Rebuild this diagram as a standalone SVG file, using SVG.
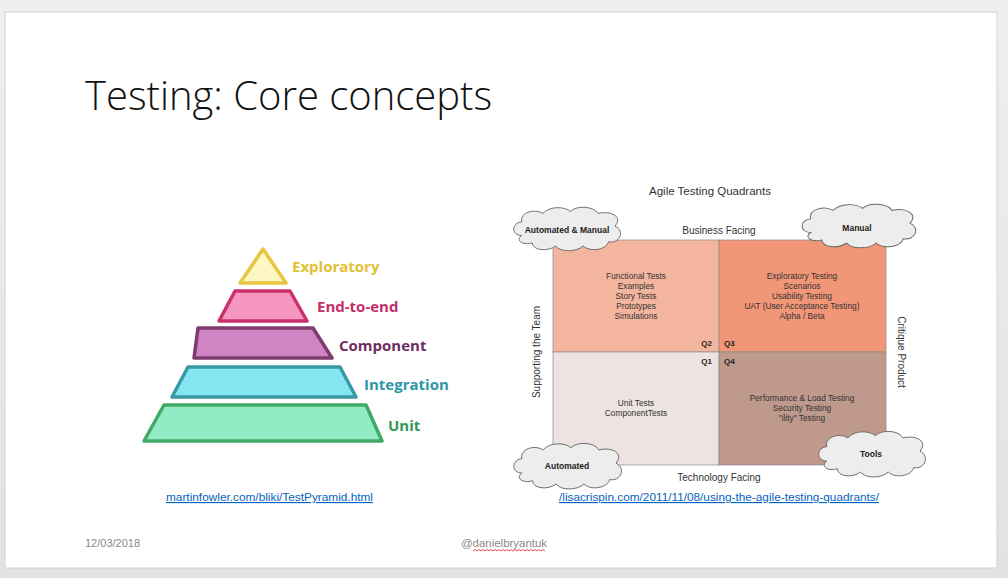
<svg xmlns="http://www.w3.org/2000/svg" width="1008" height="578" viewBox="0 0 1008 578">
<defs>
<linearGradient id="bg" x1="0" y1="0" x2="0" y2="1">
<stop offset="0" stop-color="#efefef"/><stop offset="1" stop-color="#e2e2e2"/>
</linearGradient>
<path id="cloud" d="M 12,30 C 2,30 2,18 12,17 C 10,8 24,4 32,9 C 38,2 52,2 58,7 C 64,1 80,2 84,9 C 96,6 108,12 100,21 C 110,26 104,38 94,36 C 92,44 76,46 70,40 C 64,46 48,46 44,40 C 36,46 22,44 22,37 C 12,40 6,34 12,30 Z"/>
</defs>
<style>
.pyr{stroke-width:3.5;stroke-linejoin:round}
.plab{font-family:"Open Sans","DejaVu Sans",sans-serif;font-weight:bold;font-size:15px}
.q{font-family:"Liberation Sans",Arial,sans-serif;fill:#333;text-anchor:middle}
.qt{font-size:8.3px}
.ql{font-size:8px;font-weight:bold;fill:#222}
.cl{fill:#eeeded;stroke:#6a6a6a;stroke-width:0.9}
.clt{font-family:"Liberation Sans",Arial,sans-serif;font-size:8.5px;font-weight:bold;fill:#222;text-anchor:middle}
.link{font-family:"Liberation Sans",Arial,sans-serif;font-size:11.5px;fill:#0563c1;text-decoration:underline}
.foot{font-family:"Liberation Sans",Arial,sans-serif;font-size:11px;fill:#8a8a8a}
</style>
<rect x="0" y="0" width="1008" height="578" fill="url(#bg)"/>
<rect x="5" y="12" width="992" height="556" fill="#ffffff" stroke="#d2d2d2" stroke-width="1"/>
<text x="85" y="110" font-family="'Open Sans','DejaVu Sans',sans-serif" font-weight="300" font-size="40" fill="#111" textLength="407" lengthAdjust="spacingAndGlyphs">Testing: Core concepts</text>

<g id="pyramid">
<g id="exploratory">
<path class="pyr" d="M263,249 L286,283 L240,283 Z" fill="#fdf7c3" stroke="#e6c840"/>
<text class="plab" x="292" y="272" fill="#e2c232">Exploratory</text>
</g>
<g id="end-to-end">
<path class="pyr" d="M235,291 L290,291 L307,321 L219,321 Z" fill="#f596c0" stroke="#c8336c"/>
<text class="plab" x="317" y="312" fill="#c42e67">End-to-end</text>
</g>
<g id="component">
<path class="pyr" d="M198,328 L313,328 L332,358 L194,358 Z" fill="#cf84c3" stroke="#7e3d6e"/>
<text class="plab" x="339" y="351" fill="#6e2d62">Component</text>
</g>
<g id="integration">
<path class="pyr" d="M188,367 L340,367 L356,397 L172,397 Z" fill="#83e6f0" stroke="#3899a7"/>
<text class="plab" x="364" y="390" fill="#2d95a3">Integration</text>
</g>
<g id="unit">
<path class="pyr" d="M164,405 L366,405 L382,441 L144,441 Z" fill="#93ebc6" stroke="#3fa966"/>
<text class="plab" x="388" y="431" fill="#35955b">Unit</text>
</g>
</g>

<g id="quadrants">
<text class="q" x="710" y="195" font-size="11.5">Agile Testing Quadrants</text>
<text class="q" x="719" y="234" font-size="10">Business Facing</text>
<text class="q" x="719" y="481" font-size="10">Technology Facing</text>
<text class="q" font-size="10" transform="translate(540,352) rotate(-90)">Supporting the Team</text>
<text class="q" font-size="10" transform="translate(898,352) rotate(90)">Critique Product</text>
<g id="q2">
<rect x="553" y="240" width="166" height="112" fill="#f4b59e" stroke="#8a8a8a" stroke-width="0.7"/>
<text class="q qt" x="636" y="279">Functional Tests</text>
<text class="q qt" x="636" y="289">Examples</text>
<text class="q qt" x="636" y="299">Story Tests</text>
<text class="q qt" x="636" y="309">Prototypes</text>
<text class="q qt" x="636" y="319">Simulations</text>
<text class="q ql" x="712" y="346" style="text-anchor:end">Q2</text>
</g>
<g id="q3">
<rect x="719" y="240" width="167" height="112" fill="#f29678" stroke="#8a8a8a" stroke-width="0.7"/>
<text class="q qt" x="802" y="279">Exploratory Testing</text>
<text class="q qt" x="802" y="289">Scenarios</text>
<text class="q qt" x="802" y="299">Usability Testing</text>
<text class="q qt" x="802" y="309">UAT (User Acceptance Testing)</text>
<text class="q qt" x="802" y="319">Alpha / Beta</text>
<text class="q ql" x="724" y="346" style="text-anchor:start">Q3</text>
</g>
<g id="q1">
<rect x="553" y="352" width="166" height="113" fill="#ede3e0" stroke="#8a8a8a" stroke-width="0.7"/>
<text class="q qt" x="636" y="406">Unit Tests</text>
<text class="q qt" x="636" y="416">ComponentTests</text>
<text class="q ql" x="712" y="364" style="text-anchor:end">Q1</text>
</g>
<g id="q4">
<rect x="719" y="352" width="167" height="113" fill="#bf998c" stroke="#8a8a8a" stroke-width="0.7"/>
<text class="q qt" x="802" y="401">Performance &amp; Load Testing</text>
<text class="q qt" x="802" y="411">Security Testing</text>
<text class="q qt" x="802" y="421">"ility" Testing</text>
<text class="q ql" x="724" y="364" style="text-anchor:start">Q4</text>
</g>
<g id="cloud-automated-manual">
<use href="#cloud" class="cl" transform="translate(509,204) scale(1.06,1.05)"/>
<text class="clt" x="567" y="233">Automated &amp; Manual</text>
</g>
<g id="cloud-manual">
<use href="#cloud" class="cl" transform="translate(797,201) scale(1.13,1.05)"/>
<text class="clt" x="857" y="231">Manual</text>
</g>
<g id="cloud-automated">
<use href="#cloud" class="cl" transform="translate(509,440) scale(1.07,1.1)"/>
<text class="clt" x="567" y="469">Automated</text>
</g>
<g id="cloud-tools">
<use href="#cloud" class="cl" transform="translate(814,428) scale(1.06,1.1)"/>
<text class="clt" x="871" y="457">Tools</text>
</g>
</g>

<text class="link" x="166" y="501" textLength="207" lengthAdjust="spacingAndGlyphs">martinfowler.com/bliki/TestPyramid.html</text>
<text class="link" x="559" y="501" textLength="320" lengthAdjust="spacingAndGlyphs">/lisacrispin.com/2011/11/08/using-the-agile-testing-quadrants/</text>
<text class="foot" x="85" y="547">12/03/2018</text>
<text class="foot" x="461" y="547" textLength="86" lengthAdjust="spacingAndGlyphs">@danielbryantuk</text>
<path d="M473,551 l2,-1.5 l2,1.5 l2,-1.5 l2,1.5 l2,-1.5 l2,1.5 l2,-1.5 l2,1.5 l2,-1.5 l2,1.5 l2,-1.5 l2,1.5 l2,-1.5 l2,1.5 l2,-1.5 l2,1.5 l2,-1.5 l2,1.5 l2,-1.5 l2,1.5 l2,-1.5 l2,1.5 l2,-1.5 l2,1.5 l2,-1.5 l2,1.5 l2,-1.5 l2,1.5 l2,-1.5 l2,1.5 l2,-1.5 l2,1.5 l2,-1.5 l2,1.5 l2,-1.5 l2,1.5" fill="none" stroke="#e02020" stroke-width="0.8"/>
</svg>
